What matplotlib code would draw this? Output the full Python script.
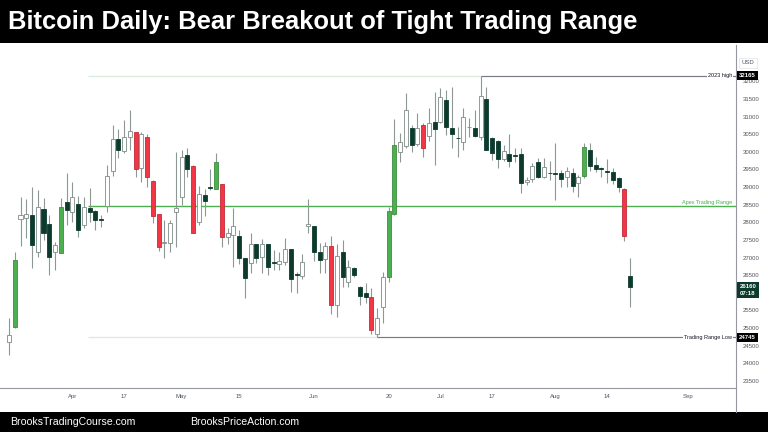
import matplotlib.pyplot as plt
from matplotlib.patches import Rectangle
from matplotlib.lines import Line2D
from matplotlib.transforms import blended_transform_factory

plt.rcParams['font.family'] = ['Liberation Sans', 'DejaVu Sans']

# daily bars (CME bitcoin futures)
opens = [24600, 25030, 28090, 28133, 28210, 27170, 28370, 27945, 27170, 27140,
         28580, 28300, 28520, 27920, 28400, 28330, 28095, 28475, 29460, 30355,
         30025, 30430, 30555, 29535, 30415, 29180, 28230, 27405, 27425, 28300,
         28710, 29910, 29600, 28000, 28775, 29010, 28940, 29090, 27595, 27640,
         27615, 26980, 26855, 27385, 27025, 27375, 26870, 26820, 26885, 27245,
         26540, 26490, 27900, 27900, 27170, 26950, 27330, 25655, 27150, 26320,
         26695, 26160, 26005, 25870, 24835, 25590, 26460, 28240, 30005, 30170,
         30670, 30225, 30760, 30450, 30855, 30855, 31470, 30685, 30400, 30270,
         30700, 30685, 30430, 31500, 30385, 30320, 29790, 29940, 29900, 29940,
         29145, 29220, 29705, 29295, 29410, 29400, 29390, 29280, 29390, 29110,
         29315, 30055, 29630, 29535, 29450, 29440, 29250, 28945, 26480]
highs = [25300, 27160, 28710, 28660, 29010, 28920, 28680, 28210, 27450, 28680,
         29390, 29150, 28750, 28730, 28965, 28350, 28210, 29640, 30760, 30640,
         30905, 31190, 30560, 30575, 30500, 29200, 28240, 28065, 28065, 30005,
         30055, 30120, 29620, 29030, 28950, 29505, 29980, 29100, 27830, 28400,
         27785, 26990, 27710, 27400, 27520, 27390, 27215, 27170, 27545, 27250,
         26600, 27095, 28665, 27910, 27425, 27450, 27615, 27375, 27500, 26930,
         26745, 26195, 26270, 26130, 25560, 26600, 28445, 30925, 30525, 31660,
         30760, 31115, 30810, 31235, 31705, 31805, 31755, 31850, 30700, 31235,
         30950, 31190, 32165, 31850, 30430, 30340, 30195, 30505, 30100, 30100,
         29295, 29675, 29820, 29820, 29750, 30240, 29485, 29580, 29535, 29345,
         30240, 30260, 29845, 29580, 29790, 29535, 29295, 28965, 27000]
lows = [24240, 25000, 27330, 27550, 26700, 27030, 27500, 26510, 26650, 27140,
        27920, 28020, 27595, 27830, 28020, 27785, 27860, 28300, 29325, 29820,
        29960, 30055, 29280, 29155, 29010, 27990, 27200, 26980, 27170, 27310,
        28495, 29295, 27690, 27925, 28180, 28920, 28940, 27310, 27385, 26745,
        26820, 25845, 26570, 26840, 26555, 26505, 26650, 26650, 26790, 26015,
        25990, 26385, 27690, 26915, 26555, 26555, 25400, 25325, 26175, 26175,
        26460, 25655, 25705, 24825, 24745, 25135, 26320, 28200, 29720, 30100,
        30005, 30165, 29865, 30315, 29630, 30810, 30480, 30100, 29865, 30055,
        30430, 30430, 30340, 30050, 29770, 29535, 29750, 29560, 29720, 28825,
        29060, 29155, 29250, 29250, 29200, 28635, 29010, 29010, 28870, 28730,
        29250, 29465, 29440, 29295, 29110, 29090, 28870, 27480, 25610]
closes = [24800, 26930, 28200, 28230, 27360, 28445, 27690, 27030, 27360, 28430,
          28350, 28710, 27785, 28445, 28300, 28070, 28065, 29325, 30365, 30055,
          30415, 30600, 29505, 30500, 29280, 28190, 27295, 27450, 27975, 28400,
          29865, 29505, 27710, 28795, 28615, 28985, 29720, 27575, 27690, 27900,
          26980, 26430, 27375, 26980, 27375, 26745, 26850, 26915, 27235, 26395,
          26520, 26885, 27955, 27170, 26930, 27330, 25655, 27055, 26440, 26745,
          26505, 25910, 25870, 24945, 25295, 26440, 28330, 30195, 30270, 31190,
          30195, 30670, 30120, 30810, 30650, 31565, 30715, 30500, 30385, 30980,
          30715, 30460, 31585, 30055, 29975, 29800, 30035, 29750, 29890, 29110,
          29200, 29610, 29280, 29580, 29390, 29385, 29220, 29455, 29030, 29295,
          30130, 29600, 29525, 29505, 29435, 29200, 28995, 27615, 26160]

# bars highlighted on the original chart
green_bars = [1, 9, 36, 66, 67, 100]
red_bars = [22, 24, 25, 26, 32, 37, 56, 63, 72, 107]

tick_pos = [11, 20, 30, 40, 53, 66, 75, 84, 95, 104, 118]
tick_labels = ['Apr', '17', 'May', '15', 'Jun', '20', 'Jul', '17', 'Aug', '14', 'Sep']
price_ticks = list(range(23500, 32001, 500))

year_high = 32165
range_low = 24745
apex_level = 28460
last_price = 26160
countdown = '07:18'

W, H = 768, 432
fig = plt.figure(figsize=(W / 100, H / 100), dpi=100)
fig.patch.set_facecolor('white')

# banner and footer
fig.add_artist(Rectangle((0, 1 - 43 / H), 1, 43 / H, transform=fig.transFigure,
                         facecolor='black', edgecolor='none', zorder=0))
fig.add_artist(Rectangle((0, 0), 1, 20 / H, transform=fig.transFigure,
                         facecolor='black', edgecolor='none', zorder=0))
fig.text(8 / W, 1 - 21.5 / H, 'Bitcoin Daily: Bear Breakout of Tight Trading Range',
         color='white', fontsize=18.4, fontweight='bold', va='center', ha='left')
fig.text(10 / W, 10 / H, 'BrooksTradingCourse.com', color='white', fontsize=7.6,
         va='center', ha='left')
fig.text(190 / W, 10 / H, 'BrooksPriceAction.com', color='white', fontsize=7.6,
         va='center', ha='left')

ax = fig.add_axes([0, (H - 388) / H, 736 / W, (388 - 45) / H])
ax.set_xlim(-1.565, 126.4)
ax.set_ylim(23301, 33032)
x_right = 126.4

bull_edge = '#7f8a86'
wick_col = '#8d9893'
bear_col = '#0c3a2d'
fills, edges, bottoms, heights = [], [], [], []
for i in range(len(opens)):
    o, c = opens[i], closes[i]
    if i in green_bars:
        fills.append('#4caf50'); edges.append('#3d8c40')
    elif i in red_bars:
        fills.append('#f23645'); edges.append('#c22b37')
    elif c >= o:
        fills.append('white'); edges.append(bull_edge)
    else:
        fills.append(bear_col); edges.append(bear_col)
    bottoms.append(min(o, c))
    heights.append(max(abs(c - o), 15))

xs = list(range(len(opens)))
ax.vlines(xs, lows, highs, color=wick_col, linewidth=0.8, zorder=2)
ax.bar(xs, heights, bottom=bottoms, width=0.7, color=fills, edgecolor=edges,
       linewidth=0.6, zorder=3)

# horizontal levels
ax.hlines([year_high, range_low], 13.7, x_right, color='#dcebdf', linewidth=1, zorder=1)
ax.hlines(apex_level, 13.7, x_right, color='#4caf50', linewidth=1, zorder=1.5)
ax.hlines(year_high, 82, x_right, color='#787b86', linewidth=0.8, zorder=1.6)
ax.hlines(range_low, 64, x_right, color='#787b86', linewidth=0.8, zorder=1.6)

t_ad = blended_transform_factory(ax.transAxes, ax.transData)
lbl_box = dict(boxstyle='square,pad=0.15', facecolor='white', edgecolor='none')
ax.text(0.995, year_high, '2023 high', transform=t_ad, ha='right', va='center',
        fontsize=4, color='#131722', bbox=lbl_box, zorder=5)
ax.text(0.995, range_low, 'Trading Range Low', transform=t_ad, ha='right', va='center',
        fontsize=4, color='#131722', bbox=lbl_box, zorder=5)
ax.text(0.995, apex_level + 40, 'Apex Trading Range', transform=t_ad, ha='right',
        va='bottom', fontsize=4, color='#4caf50', zorder=5)

# axes styling
for s in ['top', 'left']:
    ax.spines[s].set_visible(False)
for s in ['right', 'bottom']:
    ax.spines[s].set_color('#9598a1')
    ax.spines[s].set_linewidth(0.8)
ax.yaxis.tick_right()
ax.set_yticks(price_ticks)
# 26000 sits under the live price box
ax.set_yticklabels(['' if p == 26000 else str(p) for p in price_ticks])
ax.tick_params(axis='y', length=0, pad=5, labelsize=4.3, labelcolor='#50535e')
ax.set_xticks(tick_pos)
ax.set_xticklabels(tick_labels)
ax.tick_params(axis='x', length=0, pad=4, labelsize=4.3, labelcolor='#50535e')
fig.add_artist(Line2D([736 / W, 736 / W], [20 / H, 44 / H], transform=fig.transFigure,
                      color='#9598a1', linewidth=0.8))

# price boxes on the right scale
t_fd = blended_transform_factory(fig.transFigure, ax.transData)
for val in [year_high, range_low]:
    ax.text(747.5 / W, val, str(val), transform=t_fd, ha='center', va='center',
            fontsize=4.3, fontweight='bold', color='white', zorder=6, clip_on=False,
            bbox=dict(boxstyle='square,pad=0.35', facecolor='black', edgecolor='none'))
ax.text(748 / W, 26080, f'{last_price}\n{countdown}', transform=t_fd, ha='center',
        va='center', fontsize=4.3, fontweight='bold', color='white', zorder=6,
        clip_on=False, linespacing=1.3,
        bbox=dict(boxstyle='square,pad=0.35', facecolor=bear_col, edgecolor='none'))
fig.text(748 / W, 1 - 63 / H, 'USD', ha='center', va='center', fontsize=4.3,
         color='#50535e',
         bbox=dict(boxstyle='square,pad=0.5', facecolor='white', edgecolor='#e0e3eb',
                   linewidth=0.5))

fig.savefig('out.png', dpi=100)
